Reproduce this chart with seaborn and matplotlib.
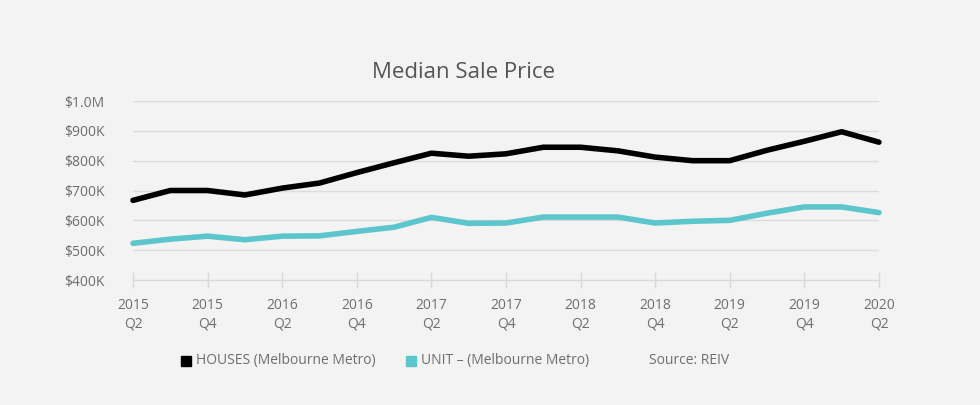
import pandas as pd
import seaborn as sns
import matplotlib.pyplot as plt
from matplotlib.lines import Line2D

# quarterly medians (2015 Q2 .. 2020 Q2)
quarters = ['2015 Q2', '2015 Q3', '2015 Q4', '2016 Q1', '2016 Q2', '2016 Q3', '2016 Q4',
            '2017 Q1', '2017 Q2', '2017 Q3', '2017 Q4', '2018 Q1', '2018 Q2', '2018 Q3',
            '2018 Q4', '2019 Q1', '2019 Q2', '2019 Q3', '2019 Q4', '2020 Q1', '2020 Q2']
houses = [667, 700, 700, 685, 708, 725, 760, 793, 825, 815, 823, 845, 845, 833,
          812, 800, 800, 835, 865, 897, 862]
units = [523, 537, 547, 535, 547, 548, 563, 577, 610, 590, 591, 611, 611, 611,
         591, 597, 600, 624, 645, 645, 626]

house_name = 'HOUSES (Melbourne Metro)'
unit_name = 'UNIT \u2013 (Melbourne Metro)'

df = pd.DataFrame({
    'idx': list(range(len(quarters))) * 2,
    'price': [v * 1000 for v in houses] + [v * 1000 for v in units],
    'series': [house_name] * len(quarters) + [unit_name] * len(quarters),
})

bg = '#f3f3f3'
house_col = '#000000'
unit_col = '#5cc6cc'
txt_col = '#6e6e6e'

sns.set_style('white')
plt.rcParams['font.family'] = ['Open Sans', 'DejaVu Sans']

fig = plt.figure(figsize=(9.8, 4.05), dpi=100, facecolor=bg)
ax = fig.add_axes([0.1357, 0.3086, 0.7612, 0.442])
ax.set_facecolor(bg)

sns.lineplot(data=df, x='idx', y='price', hue='series',
             palette={house_name: house_col, unit_name: unit_col},
             linewidth=4, legend=False, ax=ax, clip_on=False,
             solid_capstyle='round')

ax.set_xlim(0, len(quarters) - 1)
ax.set_ylim(400000, 1000000)

yt = [400000, 500000, 600000, 700000, 800000, 900000, 1000000]
ax.set_yticks(yt)
ax.set_yticklabels(['$400K', '$500K', '$600K', '$700K', '$800K', '$900K', '$1.0M'])
for y in yt[1:]:
    ax.axhline(y, color='#dcdcdc', lw=1, zorder=0)

xt = list(range(0, len(quarters), 2))
ax.set_xticks(xt)
ax.set_xticklabels([quarters[i].replace(' ', '\n') for i in xt],
                   linespacing=1.35, multialignment='center')

for s in ['top', 'right', 'left']:
    ax.spines[s].set_visible(False)
ax.spines['bottom'].set_color('#d8d8d8')
ax.spines['bottom'].set_linewidth(1)

ax.tick_params(axis='x', bottom=True, direction='inout', length=12, width=1,
               color='#d8d8d8', labelsize=10, labelcolor=txt_col, pad=7)
ax.tick_params(axis='y', left=False, labelsize=10, labelcolor=txt_col, pad=17)
ax.set_xlabel('')
ax.set_ylabel('')

fig.text(0.473, 0.822, 'Median Sale Price', ha='center', va='center',
         fontsize=16, color='#555555')

# legend row at the bottom
ly = 0.109
for mx, tx, col, label in [(0.190, 0.200, house_col, house_name),
                           (0.419, 0.430, unit_col, unit_name)]:
    fig.add_artist(Line2D([mx], [ly], transform=fig.transFigure, ls='',
                          marker='s', markersize=7, color=col))
    fig.text(tx, ly, label, ha='left', va='center', fontsize=10, color=txt_col)
fig.text(0.662, ly, 'Source: REIV', ha='left', va='center', fontsize=10, color=txt_col)

plt.savefig('out.png', dpi=100, facecolor=bg)
